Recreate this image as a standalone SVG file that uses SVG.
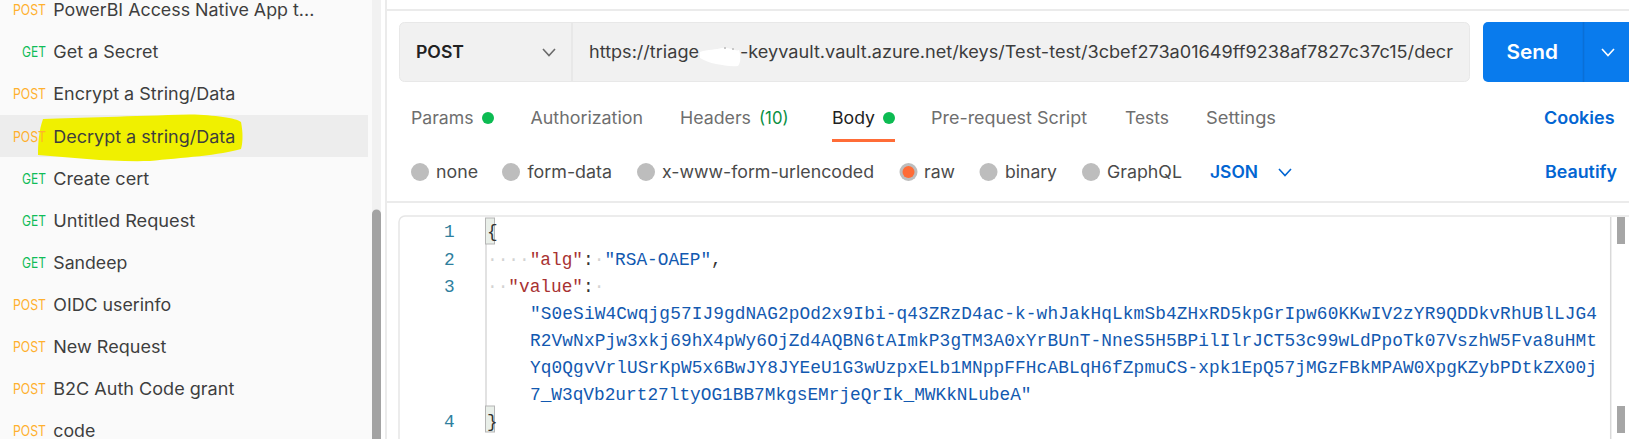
<svg xmlns="http://www.w3.org/2000/svg" width="1629" height="439" viewBox="0 0 1629 439">
<style>
text{font-family:"Inter","Liberation Sans",sans-serif;white-space:pre}
.post{font-size:14px;fill:#ffb02e}
.get{font-size:14px;fill:#10bc58}
.nm{font-size:17px;fill:#3e3e3e}
.tab{font-size:17px;fill:#6e6e6e}
.on{fill:#212121}
.blue{font-size:17px;font-weight:600;fill:#0265d2}
.opt{font-size:17px;fill:#4a4a4a}
.radio{fill:#bdbdbd}
.dot{fill:#0cbb52}
.rule{stroke:#ebebeb;stroke-width:2;fill:none}
.chev{fill:none;stroke-width:1.6}
.code{font-family:"Liberation Mono","DejaVu Sans Mono",monospace;font-size:17.8px;fill:#1259b0}
.ln{font-family:"Liberation Mono","DejaVu Sans Mono",monospace;font-size:17.8px;fill:#2f7f9e}
.key{fill:#a83232}
.ws{fill:#d3d3d3}
.pun{fill:#333}
.match{fill:#e9efe9;stroke:#b5b5b5;stroke-width:1}
.thumb{fill:#a6a6a6}
</style>
<rect width="1629" height="439" fill="#fff"/>
<g id="sidebar">
<rect x="0" y="0" width="372" height="439" fill="#fafafa"/>
<rect x="0" y="115" width="368" height="42" fill="#ededed"/>
<path d="M43 119C80 118 130 116 190 114.500C215 115 236 118 241 122C243 132 243 142 241 149C222 155 180 158 150 161C110 162 75 158 38 155C38 143 39 130 43 119Z" fill="#f0f000"/>
<rect x="372" y="0" width="9" height="439" fill="#f1f1f1"/>
<path d="M372 439V214a4.500 4.500 0 0 1 9 0V439Z" fill="#a3a3a3"/>
</g>
<g id="item-1"><text class="post" x="13" y="15" textLength="33" lengthAdjust="spacingAndGlyphs">POST</text><text class="nm" x="53.300" y="16" textLength="261" lengthAdjust="spacingAndGlyphs">PowerBI Access Native App t...</text></g>
<g id="item-2"><text class="get" x="22" y="57" textLength="24" lengthAdjust="spacingAndGlyphs">GET</text><text class="nm" x="53.300" y="58" textLength="105" lengthAdjust="spacingAndGlyphs">Get a Secret</text></g>
<g id="item-3"><text class="post" x="13" y="99" textLength="33" lengthAdjust="spacingAndGlyphs">POST</text><text class="nm" x="53.300" y="100" textLength="182" lengthAdjust="spacingAndGlyphs">Encrypt a String/Data</text></g>
<g id="item-4"><text class="post" x="13" y="141.500" textLength="33" lengthAdjust="spacingAndGlyphs">POST</text><text class="nm" x="53.300" y="142.500" textLength="182" lengthAdjust="spacingAndGlyphs">Decrypt a string/Data</text></g>
<g id="item-5"><text class="get" x="22" y="183.500" textLength="24" lengthAdjust="spacingAndGlyphs">GET</text><text class="nm" x="53.300" y="184.500" textLength="96" lengthAdjust="spacingAndGlyphs">Create cert</text></g>
<g id="item-6"><text class="get" x="22" y="225.500" textLength="24" lengthAdjust="spacingAndGlyphs">GET</text><text class="nm" x="53.300" y="226.500" textLength="142" lengthAdjust="spacingAndGlyphs">Untitled Request</text></g>
<g id="item-7"><text class="get" x="22" y="267.500" textLength="24" lengthAdjust="spacingAndGlyphs">GET</text><text class="nm" x="53.300" y="268.500" textLength="74" lengthAdjust="spacingAndGlyphs">Sandeep</text></g>
<g id="item-8"><text class="post" x="13" y="309.500" textLength="33" lengthAdjust="spacingAndGlyphs">POST</text><text class="nm" x="53.300" y="310.500" textLength="118" lengthAdjust="spacingAndGlyphs">OIDC userinfo</text></g>
<g id="item-9"><text class="post" x="13" y="351.500" textLength="33" lengthAdjust="spacingAndGlyphs">POST</text><text class="nm" x="53.300" y="352.500" textLength="113" lengthAdjust="spacingAndGlyphs">New Request</text></g>
<g id="item-10"><text class="post" x="13" y="393.500" textLength="33" lengthAdjust="spacingAndGlyphs">POST</text><text class="nm" x="53.300" y="394.500" textLength="181" lengthAdjust="spacingAndGlyphs">B2C Auth Code grant</text></g>
<g id="item-11"><text class="post" x="13" y="435.500" textLength="33" lengthAdjust="spacingAndGlyphs">POST</text><text class="nm" x="53.300" y="436.500" textLength="42" lengthAdjust="spacingAndGlyphs">code</text></g>
<g id="dividers">
<path class="rule" d="M386 0V439"/>
<path class="rule" d="M386 10H1629"/>
<path class="rule" d="M386 202H1629"/>
</g>
<g id="url-bar">
<rect x="399.500" y="22.500" width="1070" height="59" rx="5" fill="#f1f1f1" stroke="#e8e8e8"/>
<path d="M572 23V81" stroke="#e4e4e4" stroke-width="1.500"/>
<text x="416" y="58" font-size="17" font-weight="600" fill="#212121" textLength="48" lengthAdjust="spacingAndGlyphs">POST</text>
<path class="chev" stroke="#6b6b6b" d="M543 49l6 6.500 6-6.500"/>
<text x="589" y="58" font-size="17" fill="#3c3c3c" textLength="110" lengthAdjust="spacingAndGlyphs">https://triage</text>
<path d="M700 52C708 49 716 50 722 48C730 47 736 52 739 50C741 56 741 62 738 66C730 67 724 65 716 64C710 63 704 60 700 58Z" fill="#fff"/>
<rect x="724" y="47" width="2" height="2" fill="#c9c9c9"/>
<rect x="732" y="48" width="2" height="2" fill="#c9c9c9"/>
<text x="740" y="58" font-size="17" fill="#3c3c3c" textLength="713" lengthAdjust="spacingAndGlyphs">-keyvault.vault.azure.net/keys/Test-test/3cbef273a01649ff9238af7827c37c15/decr</text>
</g>
<g id="send">
<path d="M1488 22H1629V82H1488a5 5 0 0 1-5-5V27a5 5 0 0 1 5-5Z" fill="#097bed"/>
<path d="M1583.500 22V82" stroke="#0a6fd6" stroke-width="1.500"/>
<text x="1506.500" y="59" font-size="20" font-weight="600" fill="#fff" textLength="51.500" lengthAdjust="spacingAndGlyphs">Send</text>
<path class="chev" stroke="#fff" d="M1602 49l6 6.500 6-6.500"/>
</g>
<g id="tabs">
<text class="tab" x="411" y="124" textLength="62.500" lengthAdjust="spacingAndGlyphs">Params</text><circle class="dot" cx="488" cy="118" r="6"/>
<text class="tab" x="530.500" y="124" textLength="112.500" lengthAdjust="spacingAndGlyphs">Authorization</text>
<text class="tab" x="680" y="124" textLength="71" lengthAdjust="spacingAndGlyphs">Headers</text><text x="759" y="124" font-size="17" fill="#0a8f43" textLength="29.500" lengthAdjust="spacingAndGlyphs">(10)</text>
<text class="tab on" x="832" y="124" textLength="43" lengthAdjust="spacingAndGlyphs">Body</text><circle class="dot" cx="889" cy="118" r="6"/>
<rect x="832" y="139" width="63" height="3" fill="#ff6c37"/>
<text class="tab" x="931" y="124" textLength="156" lengthAdjust="spacingAndGlyphs">Pre-request Script</text>
<text class="tab" x="1125" y="124" textLength="44" lengthAdjust="spacingAndGlyphs">Tests</text>
<text class="tab" x="1206" y="124" textLength="70" lengthAdjust="spacingAndGlyphs">Settings</text>
<text class="blue" x="1544" y="124" textLength="70.500" lengthAdjust="spacingAndGlyphs">Cookies</text>
</g>
<g id="body-options">
<circle class="radio" cx="420" cy="172" r="9"/><text class="opt" x="436" y="178" textLength="42" lengthAdjust="spacingAndGlyphs">none</text>
<circle class="radio" cx="511" cy="172" r="9"/><text class="opt" x="527.500" y="178" textLength="84.500" lengthAdjust="spacingAndGlyphs">form-data</text>
<circle class="radio" cx="646" cy="172" r="9"/><text class="opt" x="662" y="178" textLength="212" lengthAdjust="spacingAndGlyphs">x-www-form-urlencoded</text>
<circle class="radio" cx="908.500" cy="172" r="9"/><circle cx="908.500" cy="172" r="6" fill="#ff6c37"/><text class="opt" x="924" y="178" textLength="31" lengthAdjust="spacingAndGlyphs">raw</text>
<circle class="radio" cx="988.500" cy="172" r="9"/><text class="opt" x="1005" y="178" textLength="52" lengthAdjust="spacingAndGlyphs">binary</text>
<circle class="radio" cx="1091" cy="172" r="9"/><text class="opt" x="1107" y="178" textLength="75" lengthAdjust="spacingAndGlyphs">GraphQL</text>
<text class="blue" x="1210" y="178" textLength="48" lengthAdjust="spacingAndGlyphs">JSON</text>
<path class="chev" stroke="#0265d2" d="M1279 169l6 6.500 6-6.500"/>
<text class="blue" x="1545" y="178" textLength="72" lengthAdjust="spacingAndGlyphs">Beautify</text>
</g>
<g id="editor">
<path d="M1629 216H405a6 6 0 0 0-6 6V439" fill="none" stroke="#e6e6e6" stroke-width="1.500"/>
<path d="M486 218V432" stroke="#d9d9d9" stroke-width="1.500"/>
<path d="M1610.700 217V439" stroke="#d9d9d9" stroke-width="1.500"/>
<rect class="thumb" x="1617" y="217" width="8" height="27"/>
<rect class="thumb" x="1617" y="406" width="8" height="27"/>
<rect class="match" x="485.500" y="218" width="9" height="26"/>
<rect class="match" x="485.500" y="406" width="9" height="26"/>
<text class="ln" x="444" y="237">1</text>
<text class="ln" x="444" y="264.500">2</text>
<text class="ln" x="444" y="291.500">3</text>
<text class="ln" x="444" y="426.500">4</text>
<text class="code pun" x="487" y="237">{</text>
<text class="code" x="487" y="264.500"><tspan class="ws">····</tspan><tspan class="key">"alg"</tspan><tspan class="pun">:</tspan><tspan class="ws">·</tspan>"RSA-OAEP"<tspan class="pun">,</tspan></text>
<text class="code" x="487" y="291.500"><tspan class="ws">··</tspan><tspan class="key">"value"</tspan><tspan class="pun">:</tspan><tspan class="ws">·</tspan></text>
<text class="code" x="530" y="318.500" textLength="1067">"S0eSiW4Cwqjg57IJ9gdNAG2pOd2x9Ibi-q43ZRzD4ac-k-whJakHqLkmSb4ZHxRD5kpGrIpw60KKwIV2zYR9QDDkvRhUBlLJG4</text>
<text class="code" x="530" y="345.500" textLength="1067">R2VwNxPjw3xkj69hX4pWy6OjZd4AQBN6tAImkP3gTM3A0xYrBUnT-NneS5H5BPilIlrJCT53c99wLdPpoTk07VszhW5Fva8uHMt</text>
<text class="code" x="530" y="372.500" textLength="1067">Yq0QgvVrlUSrKpW5x6BwJY8JYEeU1G3wUzpxELb1MNppFFHcABLqH6fZpmuCS-xpk1EpQ57jMGzFBkMPAW0XpgKZybPDtkZX00j</text>
<text class="code" x="530" y="399.500">7_W3qVb2urt27ltyOG1BB7MkgsEMrjeQrIk_MWKkNLubeA"</text>
<text class="code pun" x="487" y="426.500">}</text>
</g>
</svg>
